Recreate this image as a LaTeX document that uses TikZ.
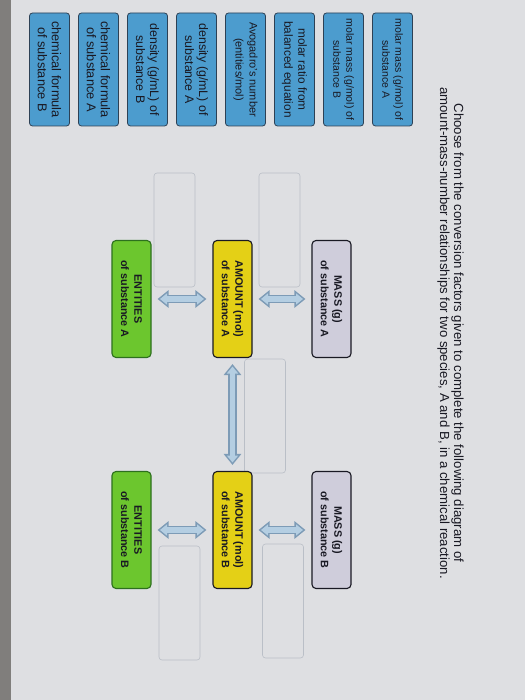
\documentclass[tikz,border=0pt]{standalone}
\usepackage{fontspec}
\setmainfont{Liberation Sans}
\usetikzlibrary{arrows.meta}

\definecolor{screen}{RGB}{222,223,226}
\definecolor{bezel}{RGB}{128,126,124}
\definecolor{optfill}{RGB}{76,156,206}
\definecolor{optline}{RGB}{45,65,85}
\definecolor{massfill}{RGB}{207,205,219}
\definecolor{amtfill}{RGB}{228,208,22}
\definecolor{entfill}{RGB}{108,198,46}
\definecolor{entline}{RGB}{45,112,30}
\definecolor{arrowedge}{RGB}{125,155,182}
\definecolor{arrowfill}{RGB}{180,206,226}
\definecolor{slotline}{RGB}{186,191,199}
\definecolor{ink}{RGB}{25,25,35}

\tikzset{
  option/.style={draw=optline, fill=optfill, line width=0.8pt, rounded corners=3pt,
    minimum width=113pt, minimum height=40pt, align=center, text=ink,
    font=\fontsize{12.4}{14}\selectfont},
  small/.style={font=\fontsize{10.5}{13}\selectfont},
  qty/.style={draw=ink, line width=1.1pt, rounded corners=4pt, minimum width=117pt,
    minimum height=39pt, align=center, text=ink, font=\fontsize{10.8}{13.3}\selectfont\bfseries},
  slot/.style={draw=slotline, line width=0.6pt, rounded corners=3pt,
    minimum width=114pt, minimum height=41pt},
  dblout/.style={draw=arrowedge, line width=8.5pt,
    {Triangle[width=17pt,length=11pt]}-{Triangle[width=17pt,length=11pt]},
    shorten <=6pt, shorten >=6pt},
  dblin/.style={draw=arrowfill, line width=5.5pt,
    {Triangle[width=10.9pt,length=7pt]}-{Triangle[width=10.9pt,length=7pt]},
    shorten <=8.45pt, shorten >=8.45pt}
}

\begin{document}
\begin{tikzpicture}[x=1pt, y=1pt, rotate=-90, transform shape]
    \useasboundingbox (0,0) rectangle (700,525);
    \fill [screen] (0,0) rectangle (700,525);
    \fill [bezel] (0,0) rectangle (700,11);

    \node [align=center, text=ink, font=\fontsize{13.2}{14}\selectfont] (ttl) at (333,450.5)
      {Choose from the conversion factors given to complete the following diagram of\\
       amount-mass-number relationships for two species, A and B, in a chemical reaction.};

    % conversion factors to choose from
    \node [option, small] (mmA) at (69.5,392.5) {molar mass (g/mol) of\\substance A};
    \node [option, small] (mmB) at (69.5,343.5) {molar mass (g/mol) of\\substance B};
    \node [option, font=\fontsize{11.8}{14}\selectfont] (ratio) at (69.5,294.5) {molar ratio from\\balanced equation};
    \node [option, font=\fontsize{11}{14}\selectfont] (avo) at (69.5,245.5) {Avogadro's number\\(entities/mol)};
    \node [option] (dA) at (69.5,196.5) {density (g/mL) of\\substance A};
    \node [option] (dB) at (69.5,147.5) {density (g/mL) of\\substance B};
    \node [option, font=\fontsize{12.8}{14}\selectfont] (cfA) at (69.5,98.5) {chemical formula\\of substance A};
    \node [option, font=\fontsize{12.8}{14}\selectfont] (cfB) at (69.5,49.5) {chemical formula\\of substance B};

    % empty places for the factors
    \node [slot] (s1) at (230,279.5) {};
    \node [slot] (s2) at (230,174.5) {};
    \node [slot] (s3) at (416,265) {};
    \node [slot] (s4) at (601,283) {};
    \node [slot] (s5) at (603,179.5) {};

    \node [qty, fill=massfill] (mA) at (299,331.5) {MASS (g)\\of substance A};
    \node [qty, fill=amtfill] (aA) at (299,232.5) {AMOUNT (mol)\\of substance A};
    \node [qty, fill=entfill, draw=entline] (eA) at (299,131.5) {ENTITIES\\of substance A};
    \node [qty, fill=massfill] (mB) at (530,331.5) {MASS (g)\\of substance B};
    \node [qty, fill=amtfill] (aB) at (530,232.5) {AMOUNT (mol)\\of substance B};
    \node [qty, fill=entfill, draw=entline] (eB) at (530,131.5) {ENTITIES\\of substance B};

    \draw [dblout] (mA) -- (aA);
    \draw [dblin] (mA) -- (aA);
    \draw [dblout] (aA) -- (eA);
    \draw [dblin] (aA) -- (eA);
    \draw [dblout] (aA) -- (aB);
    \draw [dblin] (aA) -- (aB);
    \draw [dblout] (mB) -- (aB);
    \draw [dblin] (mB) -- (aB);
    \draw [dblout] (aB) -- (eB);
    \draw [dblin] (aB) -- (eB);
\end{tikzpicture}
\end{document}
